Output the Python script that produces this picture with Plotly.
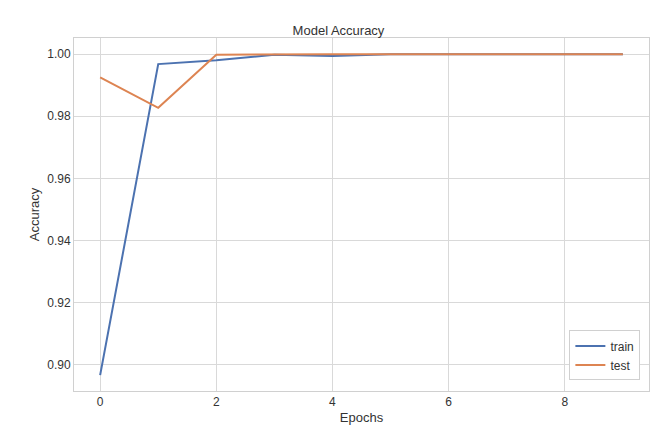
import plotly.graph_objects as go

epochs = list(range(10))
train = [0.8966, 0.9968, 0.9980, 0.9998, 0.9994, 1.0, 1.0, 1.0, 1.0, 1.0]
test = [0.9925, 0.9827, 0.9998, 1.0, 1.0, 1.0, 1.0, 1.0, 1.0, 1.0]

fig = go.Figure()
fig.add_trace(go.Scatter(x=epochs, y=train, mode="lines", name="train", line=dict(color="#4c72b0", width=2)))
fig.add_trace(go.Scatter(x=epochs, y=test, mode="lines", name="test", line=dict(color="#dd8452", width=2)))

ax = dict(showgrid=True, gridcolor="#d9d9d9", gridwidth=1, showline=True, linecolor="#d0d0d0", mirror=True,
          zeroline=False, ticks="", tickfont=dict(size=12, color="#333"))
fig.update_layout(
    width=661, height=448, paper_bgcolor="white", plot_bgcolor="white",
    margin=dict(l=66, r=20, t=30, b=65),
    font=dict(family="Liberation Sans", color="#333"),
    title=dict(text="Model Accuracy", x=0.5, xanchor="center", y=0.96, font=dict(size=13)),
    xaxis=dict(ax, title=dict(text="Epochs", font=dict(size=13), standoff=4), range=[-0.45, 9.45], tickvals=[0, 2, 4, 6, 8]),
    yaxis=dict(ax, title=dict(text="Accuracy", font=dict(size=13), standoff=4), range=[0.8915, 1.0052],
               tickvals=[0.90, 0.92, 0.94, 0.96, 0.98, 1.00], tickformat=".2f"),
    legend=dict(x=0.985, y=0.03, xanchor="right", yanchor="bottom", bordercolor="#d0d0d0", borderwidth=1,
                bgcolor="white", font=dict(size=12)),
)
fig.write_html("out.html")
